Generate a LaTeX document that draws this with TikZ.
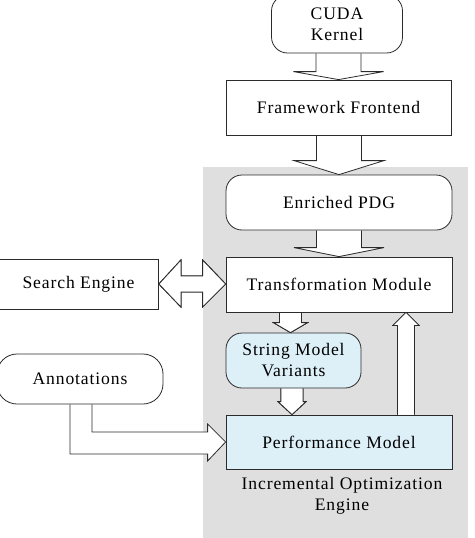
\documentclass[tikz,border=0pt]{standalone}
\usepackage{fontspec}
\setmainfont{Liberation Serif}[LetterSpace=5]
\usetikzlibrary{calc}
\definecolor{EngineGray}{HTML}{DFDFDF}
\definecolor{ModelBlue}{HTML}{DDEFF7}
\definecolor{LineDark}{HTML}{2B2B2B}
\pgfdeclarelayer{bg}
\pgfdeclarelayer{arrows}
\pgfsetlayers{bg,arrows,main}

% hollow block arrows: from, to, x shift at target, shaft half width, head half width, head length
\newcommand{\blockdown}[6]{%
  \draw[hollow] let \p1=(#1.south), \p2=($(#2.north)+(#3,0)$) in
    (\x2-#4,\y1) -- (\x2-#4,\y2+#6) -- (\x2-#5,\y2+#6) -- (\x2,\y2)
    -- (\x2+#5,\y2+#6) -- (\x2+#4,\y2+#6) -- (\x2+#4,\y1);}
\newcommand{\blockup}[6]{%
  \draw[hollow] let \p1=(#1.north), \p2=($(#2.south)+(#3,0)$) in
    (\x2-#4,\y1) -- (\x2-#4,\y2-#6) -- (\x2-#5,\y2-#6) -- (\x2,\y2)
    -- (\x2+#5,\y2-#6) -- (\x2+#4,\y2-#6) -- (\x2+#4,\y1);}

\begin{document}
\begin{tikzpicture}[x=1pt,y=-1pt,
    every node/.style={font=\fontsize{17.6}{21}\selectfont, align=center},
    box/.style={draw=LineDark, fill=white, line width=0.8pt, minimum height=55pt, inner sep=2pt},
    roundbox/.style={box, rounded corners=16pt},
    hollow/.style={draw=LineDark, fill=white, line width=0.8pt}]
  \useasboundingbox (0,0) rectangle (474,538);
  % blocks
  \node[roundbox, minimum width=131pt, minimum height=58pt] (cuda) at (337,24) {CUDA\\Kernel};
  \node[box, minimum width=225pt] (frontend) at (338.5,107.5) {Framework Frontend};
  \node[roundbox, minimum width=226pt] (pdg) at (339,202.5) {Enriched PDG};
  \node[box, minimum width=226pt] (transform) at (339,284.5) {Transformation Module};
  \node[box, minimum width=160pt, minimum height=50pt] (search) at (78.5,284) {Search Engine};
  \node[roundbox, fill=ModelBlue, minimum width=135pt] (variants) at (293.5,360.5) {String Model\\Variants};
  \node[box, fill=ModelBlue, minimum width=226pt, minimum height=54pt] (perf) at (339,442) {Performance Model};
  \node[roundbox, rounded corners=20pt, minimum width=166pt, minimum height=50pt] (annot) at (80,379) {Annotations};
  \node (engine) at (342,495.5) {Incremental Optimization\\Engine};
  % engine area
  \begin{pgfonlayer}{bg}
    \fill[EngineGray] (203,167) rectangle (468,540);
  \end{pgfonlayer}
  % arrows
  \begin{pgfonlayer}{arrows}
    \foreach \a/\b/\h in {cuda/frontend/8, frontend/pdg/14, pdg/transform/9}
      \blockdown{\a}{\b}{0}{22.5}{45}{\h}
    \blockdown{transform}{variants}{-3}{11}{17}{10}
    \blockdown{variants}{perf}{-47}{11}{14}{13}
    \blockup{perf}{transform}{67}{8.5}{13}{13}
    \draw[hollow] let \p1=(search.east), \p2=(transform.west) in
      (\x1,\y1) -- (\x1+22,\y1+24) -- (\x1+22,\y1+8) -- (\x2-23,\y1+8) -- (\x2-23,\y1+24)
      -- (\x2,\y1) -- (\x2-23,\y1-23) -- (\x2-23,\y1-8) -- (\x1+22,\y1-8) -- (\x1+22,\y1-23) -- cycle;
    \draw[hollow] let \p1=(annot.south), \p2=(perf.west) in
      (\x1-10,\y1) -- (\x1-10,\y2-12) -- (\x2-18,\y2-12) -- (\x2-18,\y2-19) -- (\x2,\y2)
      -- (\x2-18,\y2+18) -- (\x2-18,\y2+10) -- (\x1+12,\y2+10) -- (\x1+12,\y1);
  \end{pgfonlayer}
\end{tikzpicture}
\end{document}
